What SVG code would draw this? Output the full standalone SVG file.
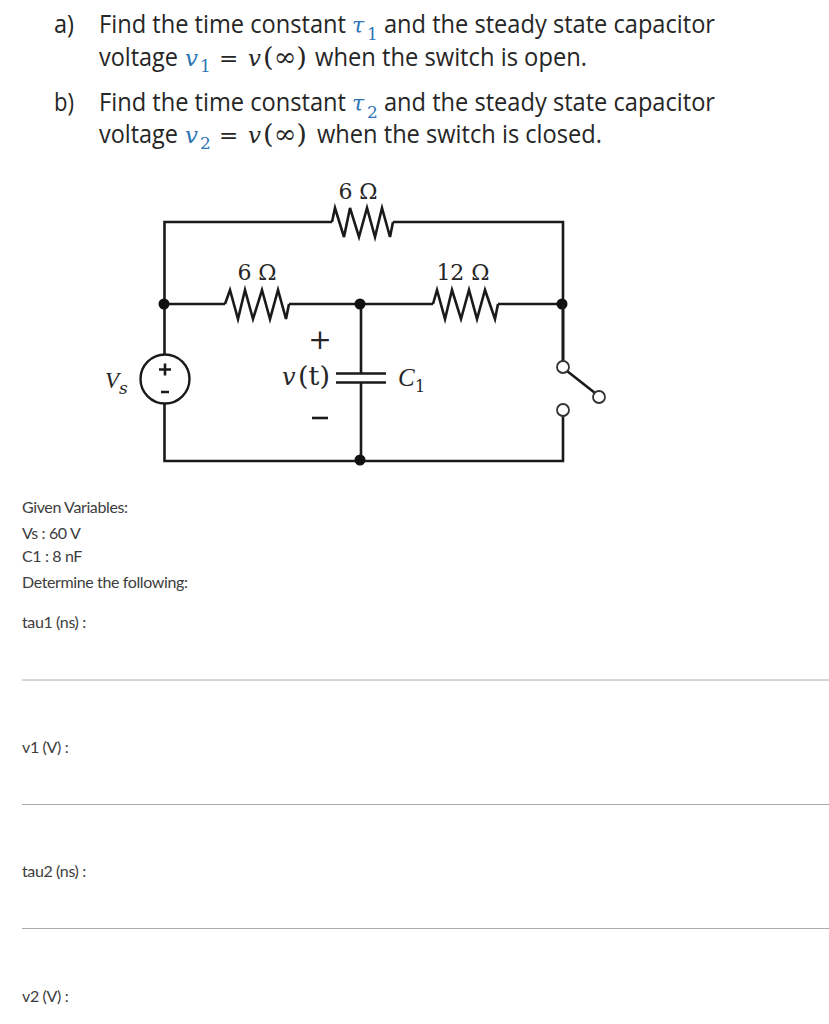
<svg xmlns="http://www.w3.org/2000/svg" width="829" height="1024" viewBox="0 0 829 1024">
<style>
.h{font-family:"Open Sans","Noto Sans",sans-serif;font-size:25px;fill:#262626}
.m{font-family:"DejaVu Serif","Liberation Serif",serif;font-style:italic;fill:#262626}
.mb{font-family:"DejaVu Serif","Liberation Serif",serif;font-style:italic;fill:#2e75b6}
.n{font-style:normal}
.u{font-family:"DejaVu Serif","Liberation Serif",serif;fill:#262626}
.g{font-family:"Lato","Open Sans",sans-serif;font-size:16px;letter-spacing:-.38px;fill:#3d3d3d}
.w{fill:none;stroke:#1a1a1a;stroke-width:2.6}
.d{fill:#111}
.o{fill:#fff;stroke:#333;stroke-width:1.8}
.r{stroke:#aaa;stroke-width:1;fill:none}
</style>
<rect width="829" height="1024" fill="#fff"/>
<g id="question">
<text class="h" x="54" y="33" textLength="20" lengthAdjust="spacingAndGlyphs">a)</text>
<text class="h" x="99" y="33" textLength="247" lengthAdjust="spacingAndGlyphs">Find the time constant</text>
<text class="mb" x="352" y="33" font-size="22">τ</text><text class="mb n" x="367" y="40" font-size="17">1</text>
<text class="h" x="384" y="33" textLength="331" lengthAdjust="spacingAndGlyphs">and the steady state capacitor</text>
<text class="h" x="99" y="66" textLength="79" lengthAdjust="spacingAndGlyphs">voltage</text>
<text class="mb" x="185" y="66" font-size="23">v</text><text class="mb n" x="200" y="72" font-size="17">1</text>
<text class="m n" x="219" y="66" font-size="23">=</text>
<text class="m" x="248" y="66" font-size="23">v</text><text class="u" x="263" y="66" font-size="26" textLength="44" lengthAdjust="spacingAndGlyphs">(∞)</text>
<text class="h" x="315" y="66" textLength="272" lengthAdjust="spacingAndGlyphs">when the switch is open.</text>
<text class="h" x="54" y="111" textLength="20" lengthAdjust="spacingAndGlyphs">b)</text>
<text class="h" x="99" y="111" textLength="247" lengthAdjust="spacingAndGlyphs">Find the time constant</text>
<text class="mb" x="352" y="111" font-size="22">τ</text><text class="mb n" x="367" y="118" font-size="17">2</text>
<text class="h" x="384" y="111" textLength="331" lengthAdjust="spacingAndGlyphs">and the steady state capacitor</text>
<text class="h" x="99" y="143" textLength="79" lengthAdjust="spacingAndGlyphs">voltage</text>
<text class="mb" x="185" y="143" font-size="23">v</text><text class="mb n" x="200" y="149" font-size="17">2</text>
<text class="m n" x="219" y="143" font-size="23">=</text>
<text class="m" x="248" y="143" font-size="23">v</text><text class="u" x="263" y="143" font-size="26" textLength="44" lengthAdjust="spacingAndGlyphs">(∞)</text>
<text class="h" x="317" y="143" textLength="285" lengthAdjust="spacingAndGlyphs">when the switch is closed.</text>
</g>
<g id="connectors">
<path class="w" d="M164.500 304V222H332M393 222H563V367M164.500 304H225M289 304H433M498 304H563M361 304V373M361 382V460M164.500 304V354M164.500 403V461H563V416"/>
</g>
<g id="r-top"><path class="w" d="M332 222L335 208L344 237L350 208L359 237L367 208L375 237L382 208L390 237L393 222"/><text class="u" x="358" y="199" font-size="22" text-anchor="middle">6 Ω</text></g>
<g id="r-left"><path class="w" d="M225 304L230 290L238 319L245 290L253 319L262 290L270 319L278 290L286 319L289 304"/><text class="u" x="257" y="280" font-size="22" text-anchor="middle">6 Ω</text></g>
<g id="r-right"><path class="w" d="M433 304L437 290L445 319L452 290L461 319L469 290L477 319L485 290L495 319L498 304"/><text class="u" x="463" y="280" font-size="22" text-anchor="middle">12 Ω</text></g>
<g id="n1"><circle class="d" cx="164" cy="304" r="5.500"/></g>
<g id="n2"><circle class="d" cx="360" cy="304" r="5.500"/></g>
<g id="n3"><circle class="d" cx="562" cy="304" r="5.500"/></g>
<g id="n4"><circle class="d" cx="360" cy="460" r="5.500"/></g>
<g id="source">
<circle cx="165" cy="379" r="24.500" fill="#fff" stroke="#1a1a1a" stroke-width="2.400"/>
<path class="w" d="M159 369.500H171M165 363.500V375.500M161 392H169"/>
<text class="m" x="105" y="388" font-size="23" style="font-family:'Liberation Serif'">V</text><text class="m" x="119" y="394" font-size="17">s</text>
</g>
<g id="capacitor">
<path class="w" d="M336 373.500H386M336 382.500H386"/>
<text class="u" x="320" y="349" font-size="28" text-anchor="middle">+</text>
<text class="m" x="282" y="385" font-size="24">v</text><text class="u" x="298" y="385" font-size="26" textLength="32" lengthAdjust="spacingAndGlyphs">(t)</text>
<path class="w" d="M312 418H328"/>
<text class="m" x="398" y="386" font-size="25" style="font-family:'Liberation Serif'">C</text><text class="u" x="415" y="392" font-size="16">1</text>
</g>
<g id="switch">
<path class="w" d="M563 304V362M567 371L595 393"/>
<circle class="o" cx="563" cy="367" r="6"/>
<circle class="o" cx="599" cy="397" r="6"/>
<circle class="o" cx="563" cy="410" r="6"/>
<rect x="606" y="385" width="10" height="24" fill="#fff"/>
</g>
<g id="form">
<text class="g" x="22" y="513">Given Variables:</text>
<text class="g" x="22" y="539">Vs : 60 V</text>
<text class="g" x="22" y="562">C1 : 8 nF</text>
<text class="g" x="22" y="588">Determine the following:</text>
<text class="g" x="22" y="628">tau1 (ns) :</text>
<path class="r" d="M22 680H829"/>
<text class="g" x="22" y="753">v1 (V) :</text>
<path class="r" d="M22 804.500H829"/>
<text class="g" x="22" y="877">tau2 (ns) :</text>
<path class="r" d="M22 928.500H829"/>
<text class="g" x="22" y="1002">v2 (V) :</text>
</g>
</svg>
